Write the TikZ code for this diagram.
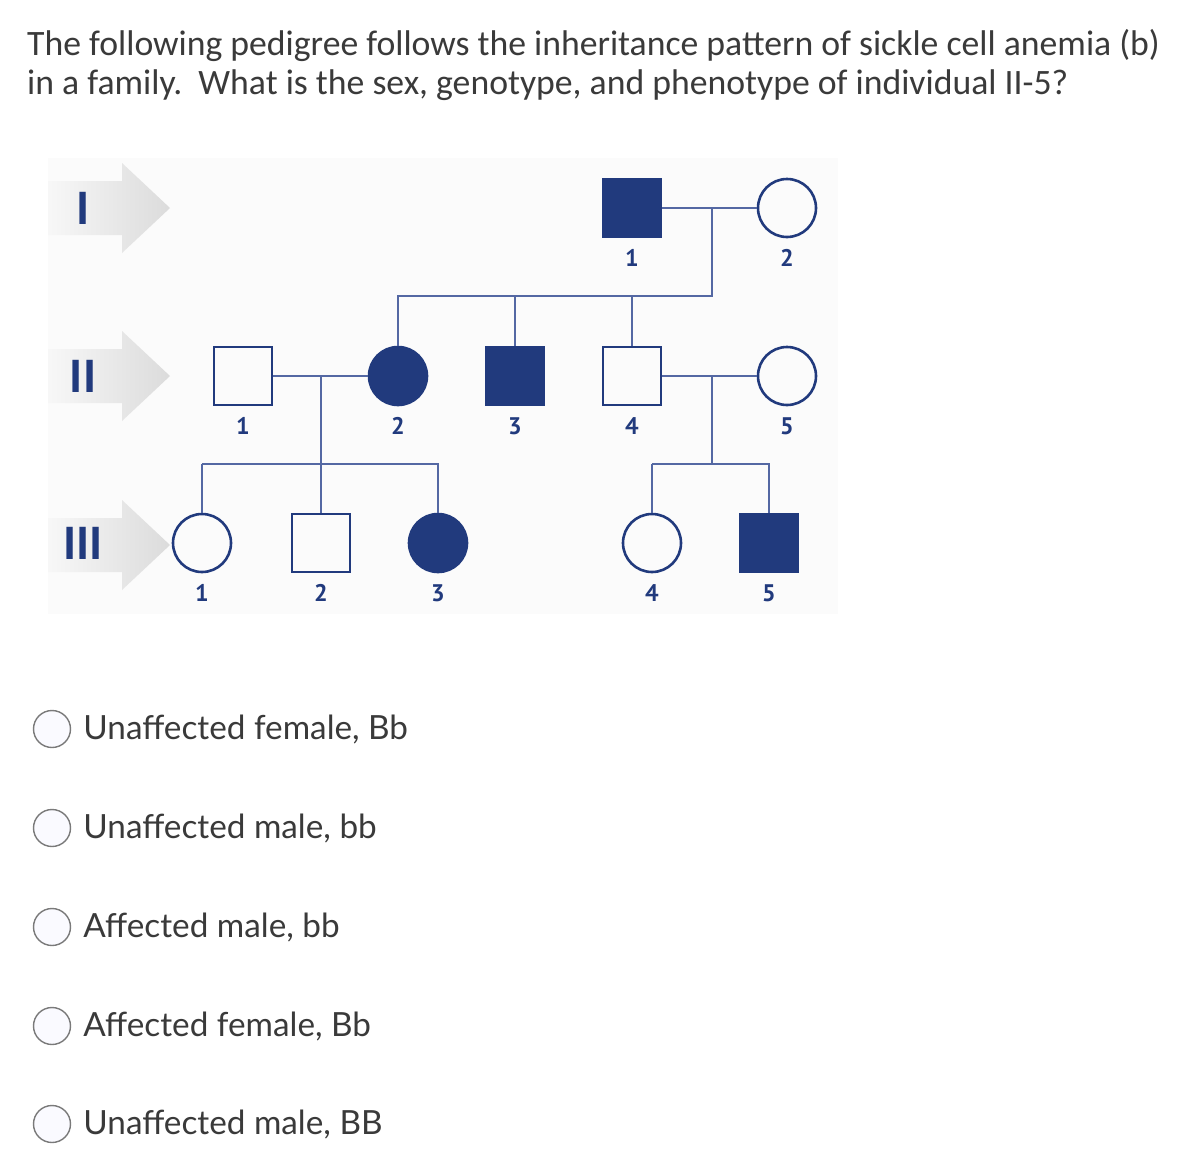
\documentclass[tikz,border=0pt]{standalone}
\usepackage{fontspec}
\setmainfont{Lato}
\newfontfamily\headfont{Carlito}
\newfontfamily\pedfont{PT Sans}
\usetikzlibrary{positioning}
\definecolor{pedblue}{HTML}{213A7D}
\definecolor{linkblue}{HTML}{5468A3}
\definecolor{qtext}{HTML}{3A3A3A}

\begin{document}
\begin{tikzpicture}[x=1pt, y=-1pt, node distance=11pt,
  male/.style={draw=pedblue, line width=2.6pt, minimum size=58pt, inner sep=0pt, rectangle},
  female/.style={draw=pedblue, line width=2.6pt, minimum size=58pt, inner sep=0pt, circle},
  hit/.style={fill=pedblue},
  num/.style={font=\pedfont\bfseries\fontsize{24}{24}\selectfont, text=pedblue, inner sep=0pt},
  gen/.style={font=\pedfont\bfseries\fontsize{46}{46}\selectfont, text=pedblue, inner sep=0pt},
  link/.style={draw=linkblue, line width=1.8pt},
  radio/.style={circle, draw=black!52, line width=1.4pt, fill=blue!2, minimum size=37pt, inner sep=0pt},
  answer/.style={font=\fontsize{33.3}{33.3}\selectfont, text=qtext, anchor=west, inner sep=0pt}]
\useasboundingbox (0,0) rectangle (1200,1160);
\fill[white] (0,0) rectangle (1200,1160);

% question
\node[font=\headfont\fontsize{35.7}{39}\selectfont, text=qtext, anchor=north west, align=left, inner sep=0pt] (question) at (27,29)
  {The following pedigree follows the inheritance pattern of sickle cell anemia (b)\\
   in a family.\ \ What is the sex, genotype, and phenotype of individual II-5?};

% panel and generation arrows
\fill[black!1.5] (48,158) rectangle (838,614);
\foreach \y in {208,376,545}
  \shade[left color=black!3, right color=black!14]
    (48,\y-27) -- (122,\y-27) -- (122,\y-45) -- (170,\y) -- (122,\y+45) -- (122,\y+27) -- (48,\y+27) -- cycle;
\node[gen] (genI) at (83,208) {I};
\node[gen] (genII) at (83,376) {II};
\node[gen] (genIII) at (83,543) {III};

% generation I
\node[male, hit] (I1) at (632,208) {};
\node[female] (I2) at (787,208) {};
% generation II
\node[male] (II1) at (243,376) {};
\node[female, hit] (II2) at (398,376) {};
\node[male, hit] (II3) at (515,376) {};
\node[male] (II4) at (632,376) {};
\node[female] (II5) at (787,376) {};
% generation III
\node[female] (III1) at (202,543) {};
\node[male] (III2) at (321,543) {};
\node[female, hit] (III3) at (438,543) {};
\node[female] (III4) at (652,543) {};
\node[male, hit] (III5) at (769,543) {};

% numbers
\foreach \who/\n in {I1/1, I2/2, II1/1, II2/2, II3/3, II4/4, II5/5, III1/1, III2/2, III3/3, III4/4, III5/5}
  \node[num, below=of \who] (n\who) {\n};

% matings and sibships
\coordinate (mI) at (712,208);
\coordinate (sI) at (712,296);
\coordinate (mA) at (321,376);
\coordinate (sA) at (321,464);
\coordinate (mB) at (712,376);
\coordinate (sB) at (712,464);
\draw[link] (I1) -- (I2);
\draw[link] (mI) -- (sI) -- (II2.north |- sI) -- (II2);
\draw[link] (II3.north |- sI) -- (II3);
\draw[link] (II4.north |- sI) -- (II4);
\draw[link] (II1) -- (II2);
\draw[link] (mA) -- (sA);
\draw[link] (III1.north |- sA) -- (III1);
\draw[link] (III1.north |- sA) -- (III3.north |- sA) -- (III3);
\draw[link] (III2.north |- sA) -- (III2);
\draw[link] (II4) -- (II5);
\draw[link] (mB) -- (sB);
\draw[link] (III4.north |- sB) -- (III4);
\draw[link] (III4.north |- sB) -- (III5.north |- sB) -- (III5);

% choices
\node[radio] (r1) at (52,729) {};
\node[radio] (r2) at (52,828) {};
\node[radio] (r3) at (52,927) {};
\node[radio] (r4) at (52,1026) {};
\node[radio] (r5) at (52,1124) {};
\node[answer, right=12pt of r1] (a1) {Unaffected female, Bb};
\node[answer, right=12pt of r2] (a2) {Unaffected male, bb};
\node[answer, right=12pt of r3] (a3) {Affected male, bb};
\node[answer, right=12pt of r4] (a4) {Affected female, Bb};
\node[answer, right=12pt of r5] (a5) {Unaffected male, BB};
\end{tikzpicture}
\end{document}
